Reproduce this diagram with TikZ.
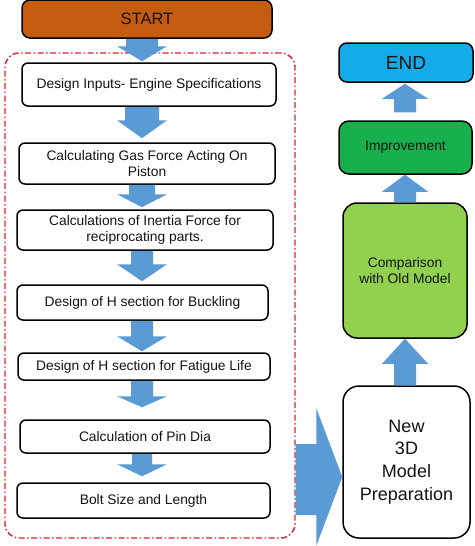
\documentclass[tikz,border=0pt]{standalone}
\usepackage{fontspec}
\setmainfont{Liberation Sans}
\usetikzlibrary{calc}
\definecolor{arrowblue}{RGB}{91,155,213}
\definecolor{startfill}{RGB}{197,90,17}
\definecolor{endfill}{RGB}{20,172,232}
\definecolor{imprfill}{RGB}{24,176,76}
\definecolor{compfill}{RGB}{146,208,80}
\definecolor{framered}{RGB}{228,28,40}
\definecolor{txt}{RGB}{20,20,20}
\newcommand\downblock[5]{%
  \fill[arrowblue] let \p1=(#1.south), \p2=(#2.north) in
    ({142pt-#3pt},\y1) -- ({142pt+#3pt},\y1) -- ({142pt+#3pt},{\y2+#5pt+#4pt})
    -- (167pt,{\y2+#5pt+#4pt}) -- (142pt,{\y2+#5pt}) -- (117pt,{\y2+#5pt+#4pt})
    -- ({142pt-#3pt},{\y2+#5pt+#4pt}) -- cycle;}
\newcommand\upblock[5]{%
  \fill[arrowblue] let \p1=(#1.north), \p2=(#2.south) in
    (394pt,{\y1+#3pt}) -- (416pt,{\y1+#3pt}) -- (416pt,{\y2-#5pt-#4pt})
    -- (428pt,{\y2-#5pt-#4pt}) -- (405pt,{\y2-#5pt}) -- (382pt,{\y2-#5pt-#4pt})
    -- (394pt,{\y2-#5pt-#4pt}) -- cycle;}
\begin{document}
\begin{tikzpicture}[x=1pt,y=-1pt,
  box/.style={draw=black, line width=1.5pt, rounded corners=6pt, fill=white,
    align=center, text=txt, font=\fontsize{13.8}{16}\selectfont, inner sep=0pt},
  framebox/.style={draw=framered, line width=1.4pt, rounded corners=14pt,
    dash pattern=on 6pt off 2.5pt on 1.5pt off 2.5pt, inner sep=0pt}]
\useasboundingbox[fill=white] (0,0) rectangle (474,546);
\node[framebox, minimum width=290pt, minimum height=485pt] (frame) at (150,295.5) {};
\node[box, fill=startfill, rounded corners=8pt, minimum width=250pt, minimum height=38pt,
  font=\fontsize{16.5}{18}\selectfont] (start) at (147,19) {START};
\node[box, minimum width=254pt, minimum height=43pt] (b1) at (149,84.5) {Design Inputs- Engine Specifications};
\node[box, minimum width=256pt, minimum height=41pt] (b2) at (147,163.5) {Calculating Gas Force Acting On\\Piston};
\node[box, minimum width=256pt, minimum height=40pt] (b3) at (145,230) {Calculations of Inertia Force for\\reciprocating parts.};
\node[box, minimum width=251pt, minimum height=35pt] (b4) at (142.5,302.5) {Design of H section for Buckling};
\node[box, minimum width=252pt, minimum height=27pt] (b5) at (144,366.5) {Design of H section for Fatigue Life};
\node[box, minimum width=250pt, minimum height=33pt] (b6) at (145,436.5) {Calculation of Pin Dia};
\node[box, minimum width=253pt, minimum height=35pt] (b7) at (143.5,500.5) {Bolt Size and Length};
\node[box, fill=endfill, rounded corners=8pt, minimum width=134pt, minimum height=39pt,
  font=\fontsize{19}{21}\selectfont] (end) at (406,62.5) {END};
\node[box, fill=imprfill, rounded corners=10pt, minimum width=133pt, minimum height=53pt] (impr) at (405.5,147.5) {Improvement};
\node[box, fill=compfill, rounded corners=14pt, minimum width=124pt, minimum height=135pt] (comp) at (405,270.5) {Comparison\\with Old Model};
\node[box, rounded corners=16pt, minimum width=127pt, minimum height=152pt,
  font=\fontsize{18}{22.7}\selectfont] (new) at (406.5,462) {New\\3D\\Model\\Preparation};
\downblock{start}{b1}{16}{15}{1}
\downblock{b1}{b2}{17}{18}{4}
\downblock{b2}{b3}{13}{13}{2}
\downblock{b3}{b4}{11}{17}{3}
\downblock{b4}{b5}{11}{15}{1}
\downblock{b5}{b6}{11}{11}{12}
\downblock{b6}{b7}{10}{12}{6}
\upblock{new}{comp}{0}{25}{0}
\upblock{comp}{impr}{0}{17}{0}
\upblock{impr}{end}{8}{15}{1}
\fill[arrowblue] let \p1=(frame.east), \p2=(new.west) in
  (\x1,-444pt) -- ({\x2-26pt},-444pt) -- ({\x2-26pt},-408pt) -- (\x2,-477pt)
  -- ({\x2-26pt},-546pt) -- ({\x2-26pt},-515pt) -- (\x1,-515pt) -- cycle;
\end{tikzpicture}
\end{document}
